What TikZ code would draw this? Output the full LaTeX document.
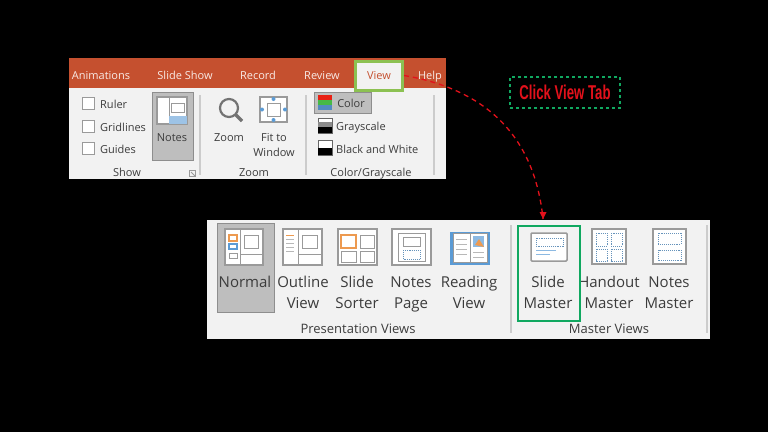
\documentclass[tikz,border=0pt]{standalone}
\usepackage{xcolor}
\usepackage{fontspec}
\usetikzlibrary{calc}
\setmainfont{Open Sans}
\newfontfamily\notefont[FakeStretch=0.66]{Liberation Sans}
\definecolor{band}{HTML}{C5502F}
\definecolor{panel}{HTML}{F2F2F2}
\definecolor{pressed}{HTML}{BEBEBE}
\definecolor{edge}{HTML}{8E8E8E}
\definecolor{labelgray}{HTML}{3C3C3C}
\definecolor{iconline}{HTML}{9A9A9A}
\definecolor{tabgreen}{HTML}{8CC152}
\definecolor{boxgreen}{HTML}{10A860}
\definecolor{notered}{HTML}{E3111B}
\definecolor{iconblue}{HTML}{5B9BD5}
\definecolor{iconorange}{HTML}{ED9A50}
\tikzset{
  small/.style={text=labelgray,font=\fontsize{11}{13}\selectfont,inner sep=0pt,text height=8.5pt,text depth=0pt},
  big/.style={text=labelgray,font=\fontsize{15}{17}\selectfont,inner sep=0pt,text height=11.5pt,text depth=0pt},
  grouptext/.style={text=labelgray,font=\fontsize{13}{15}\selectfont,inner sep=0pt,text height=10pt,text depth=0pt},
  tabtext/.style={text=white!88!band,font=\fontsize{11}{13}\selectfont,inner sep=0pt,text height=8.5pt,text depth=0pt},
  groupline/.style={draw=black!20,line width=1.2pt},
  icon/.style={draw=iconline,fill=white,line width=1.5pt},
  iconthin/.style={draw=iconline,line width=1pt},
  dots/.style={draw=iconblue!70!gray,line width=.9pt,densely dotted},
}
\begin{document}
\begin{tikzpicture}[x=1pt,y=-1pt]
\fill[black] (0,0) rectangle (768,432);
\useasboundingbox (0,0) rectangle (768,432);
% upper ribbon
\fill[panel] (69,58) rectangle (446,179);
\fill[band] (69,58) rectangle (446,88);
\node[tabtext] (animations) at (101,75) {Animations};
\node[tabtext] (slideshow) at (185,75) {Slide Show};
\node[tabtext] (record) at (258,75) {Record};
\node[tabtext] (review) at (322,75) {Review};
\node[tabtext] (help) at (430,75) {Help};
\node[draw=tabgreen,fill=panel,line width=3pt,minimum width=47pt,minimum height=29pt,inner sep=0pt,
      text=band,font=\fontsize{11}{13}\selectfont] (viewtab) at (379,75.5) {View};
% show group
\foreach \y/\t in {103/Ruler,126/Gridlines,148/Guides}{
  \draw[draw=iconline,fill=white,line width=1pt] (82,\y-6) rectangle (94,\y+6);
  \node[small,anchor=west] at (100,\y+1) {\t};
}
\draw[edge,fill=pressed] (152,92) rectangle (193,160);
\draw[icon] (157,97) rectangle (187,124);
\draw[iconthin] (169,97) -- (169,124);
\draw[iconthin] (171,103) rectangle (184,112);
\fill[iconblue!60] (169,116) rectangle (187,124);
\node[small] (notes) at (172,137) {Notes};
\node[small] (show) at (127,172) {Show};
\draw[iconthin] (189,170) rectangle (195,176);
\draw[iconthin] (191,172) -- (195,176);
\draw[groupline] (200,95) -- (200,175);
% zoom group
\draw[black!55,line width=2.2pt] (229,108) circle (9);
\draw[black!55,line width=3.2pt] (235.5,114.5) -- (242,121);
\node[small] (zoom) at (229,137) {Zoom};
\draw[icon] (260,97) rectangle (287,122);
\draw[iconthin] (267,103) rectangle (280,116);
\foreach \a/\b in {273.5/99,273.5/120,262/109.5,285/109.5}
  \fill[iconblue] (\a,\b) circle (2);
\node[small] (fitto) at (274,137) {Fit to};
\node[small] (window) at (274,152) {Window};
\node[small] (zoomgroup) at (254,172) {Zoom};
\draw[groupline] (306,95) -- (306,175);
% colour group
\draw[edge,fill=pressed] (314,92) rectangle (371,113);
\fill[red!60!band] (318,95) rectangle (332,100);
\fill[green!45!gray] (318,100) rectangle (332,105);
\fill[iconblue!90!black] (318,105) rectangle (332,110);
\node[small] (color) at (351,103) {Color};
\draw[black!60,fill=white] (318,118) rectangle (332,133);
\fill[black!45] (318,122) rectangle (332,127);
\fill[black] (318,127) rectangle (332,133);
\node[small,anchor=west] (gray) at (336,126) {Grayscale};
\draw[black!60,fill=white] (318,140) rectangle (332,155);
\fill[black] (318,148) rectangle (332,155);
\node[small,anchor=west] (bw) at (336,149) {Black and White};
\node[small] (colorgroup) at (371,172) {Color/Grayscale};
\draw[groupline] (434,95) -- (434,175);
% note
\node[draw=boxgreen,line width=1.3pt,dashed,minimum width=110pt,minimum height=31pt,inner sep=0pt,
      text=notered,font=\notefont\bfseries\fontsize{20}{22}\selectfont] (clicknote) at (565,92.5) {Click View Tab};
% lower ribbon
\fill[panel] (207,220) rectangle (710,339);
\draw[edge,fill=pressed] (217,223) rectangle (274,312);
% normal icon
\draw[icon] (225,229) rectangle (263,265);
\draw[iconthin] (240,229) -- (240,265) (240,254) -- (263,254);
\draw[iconthin] (244,235) rectangle (258,248);
\draw[iconorange,line width=1.3pt] (229,235) rectangle (237,241);
\draw[iconblue,line width=1.3pt] (229,244) rectangle (237,249);
\draw[iconthin] (229,253) rectangle (237,258);
% outline icon
\draw[icon] (283,229) rectangle (322,265);
\draw[iconthin] (298,229) -- (298,265) (298,254) -- (322,254);
\draw[iconthin] (302,235) rectangle (317,248);
\foreach \y in {235,239,243,247,251}
  \draw[iconline!70] (286,\y) -- (294,\y);
\draw[iconorange] (286,235) -- (294,235);
% sorter icon
\draw[icon] (338,229) rectangle (377,265);
\draw[iconorange,line width=1.3pt] (341,235) rectangle (356,248);
\draw[iconthin] (360,235) rectangle (374,248) (341,251) rectangle (356,262) (360,251) rectangle (374,262);
% notes page icon
\draw[icon] (392,229) rectangle (431,265);
\draw[iconthin] (398,233) rectangle (425,261);
\draw[iconthin] (403,237) rectangle (420,246);
\draw[dots] (403,250) rectangle (420,259);
% reading icon
\fill[iconblue] (450,232) rectangle (490,265);
\draw[iconthin,fill=white] (453,233) rectangle (470,262) (470,233) rectangle (487,262);
\foreach \y in {239,244,249,254}
  \draw[iconline!70] (456,\y) -- (467,\y);
\fill[iconblue!70] (473,236) rectangle (484,247);
\fill[iconorange] (475,245) -- (479,239) -- (484,247) -- cycle;
\foreach \y in {252,257}
  \draw[iconline!70] (473,\y) -- (484,\y);
% master icons
\draw[icon,rounded corners=1pt] (531,233) rectangle (567,261);
\draw[dots] (536,238) rectangle (563,246);
\draw[iconblue!70] (536,250) -- (556,250) (536,254) -- (550,254);
\draw[icon] (592,229) rectangle (626,264);
\draw[dots] (596,233) rectangle (607,246) (611,233) rectangle (622,246)
            (596,249) rectangle (607,261) (611,249) rectangle (622,261);
\draw[icon] (653,229) rectangle (686,264);
\draw[dots] (658,233) rectangle (681,244) (658,250) rectangle (681,260);
% lower labels
\node[big] (normal) at (245,282) {Normal};
\foreach \x/\a/\b in {303/Outline/View,357/Slide/Sorter,411/Notes/Page,469/Reading/View,
                      548/Slide/Master,609/Handout/Master,669/Notes/Master}{
  \node[big] at (\x,282) {\a};
  \node[big] at (\x,303) {\b};
}
\node[grouptext] (presentation) at (358,328) {Presentation Views};
\node[grouptext] (masterviews) at (609,328) {Master Views};
\draw[groupline] (511,225) -- (511,333);
\draw[groupline] (707,225) -- (707,333);
\node[draw=boxgreen,line width=2pt,minimum width=62pt,minimum height=95pt,inner sep=0pt] (slidemaster) at (549,273.5) {};
% arrow
\coordinate (tip) at (543,219);
\draw[notered,line width=1.3pt,dash pattern=on 5pt off 4pt] (viewtab.east) .. controls (490,90) and (535,140) .. (tip);
\fill[notered] (tip) -- ++(-3.5,-7) -- ++(7,0) -- cycle;
\end{tikzpicture}
\end{document}
